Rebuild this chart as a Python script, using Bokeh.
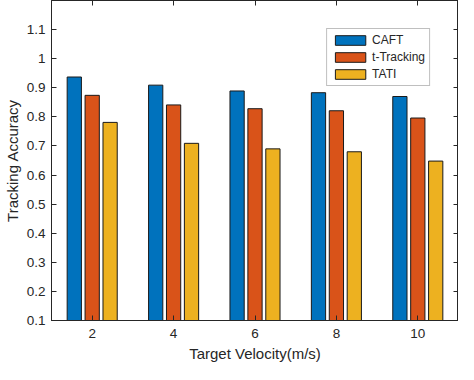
from bokeh.plotting import figure
from bokeh.models import (FactorRange, Range1d, FixedTicker, LinearAxis, CategoricalAxis,
                          Legend, LegendItem, ColumnDataSource)
from bokeh.transform import dodge
from bokeh.embed import file_html
from bokeh.resources import INLINE

velocities = ["2", "4", "6", "8", "10"]
caft = [0.937, 0.909, 0.889, 0.883, 0.870]
t_tracking = [0.874, 0.841, 0.828, 0.821, 0.796]
tati = [0.781, 0.709, 0.690, 0.680, 0.648]
y_ticks = [0.1, 0.2, 0.3, 0.4, 0.5, 0.6, 0.7, 0.8, 0.9, 1.0, 1.1]
y_tick_labels = {0.1: "0.1", 0.2: "0.2", 0.3: "0.3", 0.4: "0.4", 0.5: "0.5", 0.6: "0.6",
                 0.7: "0.7", 0.8: "0.8", 0.9: "0.9", 1.0: "1", 1.1: "1.1"}

src = ColumnDataSource(dict(v=velocities, caft=caft, tt=t_tracking, tati=tati))

AX = "#262626"
FONT = "Liberation Sans"

p = figure(width=458, height=364, x_range=FactorRange(*velocities), y_range=Range1d(0.1, 1.2),
           output_backend="svg", toolbar_location=None,
           min_border_left=0, min_border_right=0, min_border_top=0, min_border_bottom=0)
p.xgrid.visible = False
p.ygrid.visible = False
p.outline_line_color = AX
p.background_fill_color = "white"

w = 0.175
r1 = p.vbar(x=dodge("v", -0.22, range=p.x_range), top="caft", bottom=0.1, width=w, source=src,
            fill_color="#0072BD", line_color="#1a1a1a", line_width=1)
r2 = p.vbar(x=dodge("v", 0.0, range=p.x_range), top="tt", bottom=0.1, width=w, source=src,
            fill_color="#D95319", line_color="#1a1a1a", line_width=1)
r3 = p.vbar(x=dodge("v", 0.22, range=p.x_range), top="tati", bottom=0.1, width=w, source=src,
            fill_color="#EDB120", line_color="#1a1a1a", line_width=1)

def style_axis(ax):
    ax.axis_line_color = AX
    ax.major_tick_line_color = AX
    ax.major_tick_in = 5
    ax.major_tick_out = 0
    ax.minor_tick_line_color = None
    ax.major_label_text_color = AX
    ax.major_label_text_font = FONT
    ax.major_label_text_font_size = "13.5px"
    ax.axis_label_text_font = FONT
    ax.axis_label_text_font_size = "15px"
    ax.axis_label_text_font_style = "normal"
    ax.axis_label_text_color = AX

xa = p.xaxis[0]
style_axis(xa)
xa.axis_label = "Target Velocity(m/s)"
xa.major_label_standoff = 8
xa.axis_label_standoff = 4

ya = p.yaxis[0]
style_axis(ya)
ya.ticker = FixedTicker(ticks=y_ticks)
ya.major_label_overrides = y_tick_labels
ya.axis_label = "Tracking Accuracy"
ya.major_label_standoff = 6
ya.axis_label_standoff = 3

top_ax = CategoricalAxis()
style_axis(top_ax)
top_ax.major_label_text_font_size = "0px"
top_ax.major_label_text_color = None
top_ax.major_label_standoff = 0
p.add_layout(top_ax, "above")

right_ax = LinearAxis(ticker=FixedTicker(ticks=y_ticks))
style_axis(right_ax)
right_ax.major_label_text_font_size = "0px"
right_ax.major_label_text_color = None
right_ax.major_label_standoff = 0
p.add_layout(right_ax, "right")

legend = Legend(items=[LegendItem(label="CAFT", renderers=[r1]),
                       LegendItem(label="t-Tracking", renderers=[r2]),
                       LegendItem(label="TATI", renderers=[r3])],
                location="top_right")
legend.label_text_font = FONT
legend.label_text_font_size = "12px"
legend.label_text_color = AX
legend.glyph_width = 38
legend.glyph_height = 12
legend.label_height = 14
legend.label_standoff = 3
legend.spacing = 3
legend.padding = 4
legend.margin = 28
legend.border_line_color = "#7f7f7f"
legend.background_fill_alpha = 1
p.add_layout(legend, "center")

open("out.html", "w").write(file_html(p, INLINE))
